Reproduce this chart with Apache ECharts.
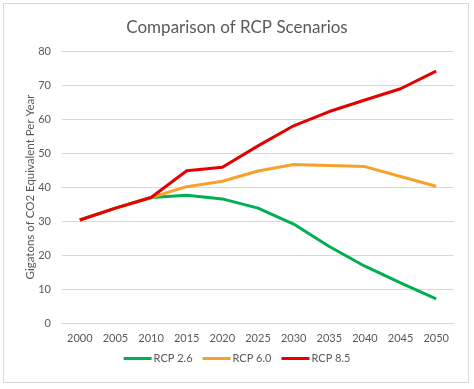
<!DOCTYPE html>
<html><head><meta charset="utf-8">
<script src="https://cdn.jsdelivr.net/npm/echarts@6/dist/echarts.min.js"></script>
<style>html,body{margin:0;padding:0;background:#fff}#c{width:474px;height:389px}</style>
</head><body><div id="c"></div>
<script>
const years = ['2000','2005','2010','2015','2020','2025','2030','2035','2040','2045','2050'];
const rcp26 = [30.3, 33.8, 36.9, 37.6, 36.5, 33.8, 29.1, 22.5, 16.7, 11.8, 7.1];
const rcp60 = [30.3, 33.8, 36.9, 40.1, 41.7, 44.7, 46.6, 46.3, 46.0, 43.1, 40.2];
const rcp85 = [30.3, 33.8, 36.9, 44.8, 45.8, 52.1, 58.0, 62.2, 65.6, 68.9, 74.1];
const yTicks = [0, 10, 20, 30, 40, 50, 60, 70, 80];

const font = 'Lato, "Noto Sans", sans-serif';
const chart = echarts.init(document.getElementById('c'), null, {renderer: 'canvas'});
chart.setOption({
  animation: false,
  backgroundColor: '#fff',
  textStyle: {fontFamily: font},
  graphic: [{type: 'rect', shape: {x: 3.5, y: 3.5, width: 465, height: 379}, style: {fill: 'none', stroke: '#d9d9d9', lineWidth: 1}, silent: true}],
  title: {text: 'Comparison of RCP Scenarios', left: 'center', top: 14,
    textStyle: {fontFamily: font, fontSize: 17, fontWeight: 'normal', color: '#595959'}},
  grid: {left: 62, right: 20, top: 51, bottom: 66, containLabel: false},
  legend: {bottom: 20, left: 'center', itemWidth: 28, itemHeight: 3, itemGap: 10,
    icon: 'rect',
    textStyle: {fontFamily: font, fontSize: 11, color: '#595959', padding: [0, 0, 0, -3]},
    data: ['RCP 2.6', 'RCP 6.0', 'RCP 8.5']},
  xAxis: {type: 'category', data: years, boundaryGap: true,
    axisLine: {show: true, lineStyle: {color: '#d9d9d9'}}, axisTick: {show: false},
    axisLabel: {color: '#595959', fontSize: 11, margin: 10, interval: 0, fontFamily: font}},
  yAxis: {type: 'value', min: yTicks[0], max: yTicks[yTicks.length - 1], interval: 10,
    name: 'Gigatons of CO2 Equivalent Per Year', nameLocation: 'middle', nameGap: 26,
    nameMoveOverlap: false,
    nameTextStyle: {color: '#595959', fontSize: 11.5, fontFamily: font},
    axisLine: {show: false}, axisTick: {show: false},
    axisLabel: {color: '#595959', fontSize: 11, margin: 11, fontFamily: font},
    splitLine: {lineStyle: {color: '#d9d9d9'}}},
  series: [
    {name: 'RCP 2.6', type: 'line', data: rcp26, showSymbol: false, symbol: 'none', itemStyle: {color: '#00b050'}, lineStyle: {color: '#00b050', width: 3}},
    {name: 'RCP 6.0', type: 'line', data: rcp60, showSymbol: false, symbol: 'none', itemStyle: {color: '#f7a12b'}, lineStyle: {color: '#f7a12b', width: 3}},
    {name: 'RCP 8.5', type: 'line', data: rcp85, showSymbol: false, symbol: 'none', itemStyle: {color: '#e60000'}, lineStyle: {color: '#e60000', width: 3}}
  ]
});
</script></body></html>
